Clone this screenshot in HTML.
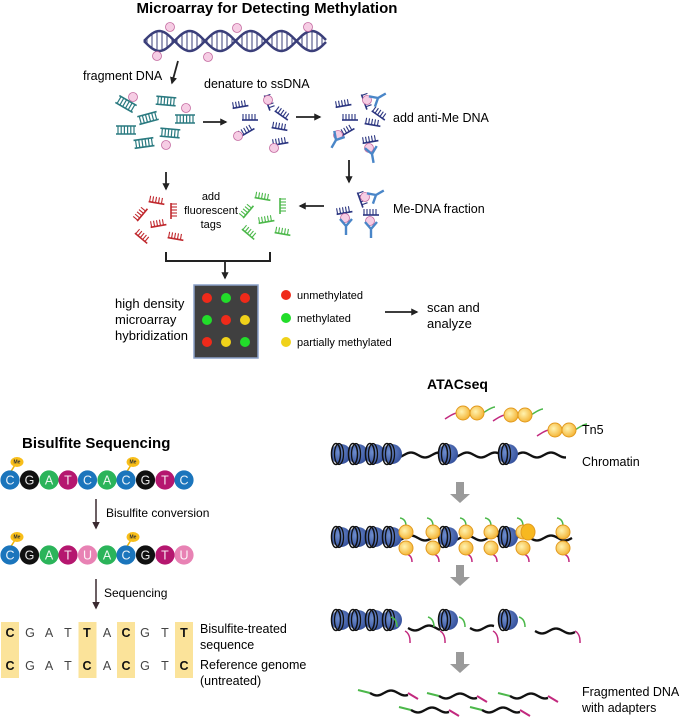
<!DOCTYPE html>
<html><head><meta charset="utf-8"><style>
html,body{margin:0;padding:0;background:#fff}
svg{display:block;font-family:"Liberation Sans",Arial,sans-serif}
</style></head><body>
<svg id="s" width="685" height="719" viewBox="0 0 685 719" xmlns="http://www.w3.org/2000/svg">
<defs>
<marker id="ah" viewBox="0 0 10 10" refX="8" refY="5" markerWidth="4" markerHeight="4" orient="auto"><path d="M0,0L10,5L0,10z" fill="#222"/></marker>
<marker id="ah2" viewBox="0 0 10 10" refX="8" refY="5" markerWidth="5" markerHeight="5" orient="auto"><path d="M0,0L10,5L0,10z" fill="#3a2a30"/></marker>
<radialGradient id="og" cx="0.4" cy="0.4" r="0.6"><stop offset="0" stop-color="#fff3b0"/><stop offset="1" stop-color="#f5b73a"/></radialGradient>
<radialGradient id="ng" cx="0.4" cy="0.4" r="0.7"><stop offset="0" stop-color="#6f8fd0"/><stop offset="1" stop-color="#2f4a96"/></radialGradient>
</defs>
<g id="g"></g>
<text x="267" y="13" font-size="15" font-weight="bold" text-anchor="middle">Microarray for Detecting Methylation</text>
<text x="83" y="80" font-size="12.5">fragment DNA</text>
<text x="204" y="88" font-size="12.5">denature to ssDNA</text>
<text x="393" y="122" font-size="12.5">add anti-Me DNA</text>
<text x="393" y="213" font-size="12.5">Me-DNA fraction</text>
<text x="211" y="200" font-size="11" text-anchor="middle">add</text>
<text x="211" y="214" font-size="11" text-anchor="middle">fluorescent</text>
<text x="211" y="228" font-size="11" text-anchor="middle">tags</text>
<text x="115" y="308" font-size="13">high density</text>
<text x="115" y="324" font-size="13">microarray</text>
<text x="115" y="340" font-size="13">hybridization</text>
<text x="297" y="299" font-size="11">unmethylated</text>
<text x="297" y="322" font-size="11">methylated</text>
<text x="297" y="346" font-size="11">partially methylated</text>
<text x="427" y="312" font-size="13">scan and</text>
<text x="427" y="328" font-size="13">analyze</text>

<text x="22" y="448" font-size="15" font-weight="bold">Bisulfite Sequencing</text>
<text x="106" y="517" font-size="12">Bisulfite conversion</text>
<text x="104" y="597" font-size="12">Sequencing</text>
<text x="200" y="633" font-size="12.5">Bisulfite-treated</text>
<text x="200" y="649" font-size="12.5">sequence</text>
<text x="200" y="669" font-size="12.5">Reference genome</text>
<text x="200" y="685" font-size="12.5">(untreated)</text>

<text x="427" y="389" font-size="14" font-weight="bold">ATACseq</text>
<text x="582" y="434" font-size="12.5">Tn5</text>
<text x="582" y="466" font-size="12.5">Chromatin</text>
<text x="582" y="696" font-size="12.5">Fragmented DNA</text>
<text x="582" y="712" font-size="12.5">with adapters</text>

<g id="bs"></g>
<g font-size="5" font-weight="bold" text-anchor="middle" fill="#333">
<text x="17" y="463.5">Me</text><text x="133" y="463.5">Me</text>
<text x="17" y="538.5">Me</text><text x="133" y="538.5">Me</text>
</g>
<g font-size="12.5" text-anchor="middle" fill="#444">
<text x="10" y="637" font-weight="bold" fill="#111">C</text><text x="30" y="637">G</text><text x="49" y="637">A</text><text x="68" y="637">T</text><text x="87" y="637" font-weight="bold" fill="#111">T</text><text x="107" y="637">A</text><text x="126" y="637" font-weight="bold" fill="#111">C</text><text x="145" y="637">G</text><text x="165" y="637">T</text><text x="184" y="637" font-weight="bold" fill="#111">T</text>
<text x="10" y="670" font-weight="bold" fill="#111">C</text><text x="30" y="670">G</text><text x="49" y="670">A</text><text x="68" y="670">T</text><text x="87" y="670" font-weight="bold" fill="#111">C</text><text x="107" y="670">A</text><text x="126" y="670" font-weight="bold" fill="#111">C</text><text x="145" y="670">G</text><text x="165" y="670">T</text><text x="184" y="670" font-weight="bold" fill="#111">C</text>
</g>
<g font-size="12.5" text-anchor="middle" fill="#fff" fill-opacity="0.9">
<text x="10" y="484.5">C</text><text x="29.5" y="484.5">G</text><text x="49" y="484.5">A</text><text x="68" y="484.5">T</text><text x="87.5" y="484.5">C</text><text x="107" y="484.5">A</text><text x="126" y="484.5">C</text><text x="145.5" y="484.5">G</text><text x="165" y="484.5">T</text><text x="184" y="484.5">C</text>
<text x="10" y="559.5">C</text><text x="29.5" y="559.5">G</text><text x="49" y="559.5">A</text><text x="68" y="559.5">T</text><text x="87.5" y="559.5">U</text><text x="107" y="559.5">A</text><text x="126" y="559.5">C</text><text x="145.5" y="559.5">G</text><text x="165" y="559.5">T</text><text x="184" y="559.5">U</text>
</g>
</svg>
<script>
var NS="http://www.w3.org/2000/svg",G=document.getElementById("g");
function el(t,a,p){var e=document.createElementNS(NS,t);for(var k in a)e.setAttribute(k,a[k]);(p||G).appendChild(e);return e;}
function grp(x,y,r){return el("g",{transform:"translate("+x+","+y+") rotate("+r+")"});}
function ds(x,y,r,c){var g=grp(x,y,r);el("line",{x1:-10,y1:-4,x2:10,y2:-4,stroke:c,"stroke-width":1.6},g);el("line",{x1:-10,y1:4,x2:10,y2:4,stroke:c,"stroke-width":1.6},g);for(var i=-8;i<=8;i+=3.2)el("line",{x1:i,y1:-4,x2:i,y2:4,stroke:c,"stroke-width":1.2},g);}
function ss(x,y,r,c){var g=grp(x,y,r);el("line",{x1:-8,y1:3,x2:8,y2:3,stroke:c,"stroke-width":1.6},g);for(var i=-7;i<=7;i+=3)el("line",{x1:i,y1:3,x2:i,y2:-3,stroke:c,"stroke-width":1.1},g);}
function me(x,y){el("circle",{cx:x,cy:y,r:4.5,fill:"#f6cde4",stroke:"#c46aa0","stroke-width":0.8});}
function ab(x,y,r){var g=grp(x,y,r),c="#4a86c8";el("path",{d:"M0,0L0,9M0,0L-6,-7M0,0L6,-7",stroke:c,"stroke-width":2.4,fill:"none"},g);}
function ar(x1,y1,x2,y2){el("line",{x1:x1,y1:y1,x2:x2,y2:y2,stroke:"#222","stroke-width":1.8,"marker-end":"url(#ah)"});}
var p1="",p2="";for(var x=144;x<=327;x+=2){var t=(x-144)/61*2*Math.PI;p1+=(x==144?"M":"L")+x+","+(41+10*Math.sin(t));p2+=(x==144?"M":"L")+x+","+(41-10*Math.sin(t));}
for(var x=147;x<327;x+=5){var t=(x-144)/61*2*Math.PI;el("line",{x1:x,y1:41+10*Math.sin(t),x2:x,y2:41-10*Math.sin(t),stroke:"#3b3f7a","stroke-width":1});}
el("path",{d:p1,stroke:"#3b3f7a","stroke-width":2.5,fill:"none"});el("path",{d:p2,stroke:"#3b3f7a","stroke-width":2.5,fill:"none"});
[[170,27],[237,28],[308,27],[157,56],[208,57]].forEach(function(p){me(p[0],p[1]);});
ar(178,61,172,83);
var T="#2a7a80";[[126,104,30],[166,101,5],[148,118,-15],[185,119,0],[126,130,0],[170,133,5],[144,143,-8]].forEach(function(p){ds(p[0],p[1],p[2],T);});
me(133,97);me(186,108);me(166,145);
ar(203,122,226,122);
var B="#2b3580";[[240,104,-10],[270,102,70],[283,113,35],[250,117,0],[280,126,10],[246,130,-30],[280,141,-10]].forEach(function(p){ss(p[0],p[1],p[2],B);});
me(268,100);me(238,136);me(274,148);
ar(296,117,320,117);
[[343,103,-10],[367,101,70],[380,113,35],[350,117,0],[373,122,10],[346,130,-30],[370,139,-10]].forEach(function(p){ss(p[0],p[1],p[2],B);});
me(367,100);me(338,135);me(369,148);ab(378,98,-120);ab(336,140,30);ab(372,154,-10);
ar(349,160,349,182);ar(166,172,166,189);
[[344,210,-10],[363,199,70],[371,212,0]].forEach(function(p){ss(p[0],p[1],p[2],B);});
me(365,197);me(345,218);me(370,221);ab(376,195,-120);ab(346,226,0);ab(371,229,0);
ar(324,206,300,206);
var R="#c0282d";[[157,200,10],[140,213,-50],[174,211,90],[158,223,-10],[143,236,40],[176,236,10]].forEach(function(p){ss(p[0],p[1],p[2],R);});
var Gr="#4cb84a";[[263,196,10],[246,210,-50],[283,206,90],[266,219,-10],[250,232,40],[283,231,10]].forEach(function(p){ss(p[0],p[1],p[2],Gr);});
el("path",{d:"M166,252L166,261L270,261L270,252",stroke:"#222","stroke-width":2,fill:"none"});
ar(225,262,225,278);
el("rect",{x:194,y:285,width:64,height:73,fill:"#404040",stroke:"#8aa0c8","stroke-width":1.5});
var rc="#ef2a1a",gc="#22dd2a",yc="#f0d21a",cols=[[rc,gc,rc],[gc,rc,yc],[rc,yc,gc]];
for(var i=0;i<3;i++)for(var j=0;j<3;j++)el("circle",{cx:207+j*19,cy:298+i*22,r:5,fill:cols[i][j]});
el("circle",{cx:286,cy:295,r:5,fill:rc});el("circle",{cx:286,cy:318,r:5,fill:gc});el("circle",{cx:286,cy:342,r:5,fill:yc});
ar(385,312,417,312);
var BS=document.getElementById("bs"),col={C:"#1b75bc",G:"#111",A:"#2bb45a",T:"#b5176f",U:"#e882b4"};
var xs=[10,29.5,49,68,87.5,107,126,145.5,165,184];
function row(seq,y){for(var i=0;i<seq.length;i++){el("circle",{cx:xs[i],cy:y,r:9.6,fill:col[seq[i]]},BS);}}
row("CGATCACGTC",480);row("CGATUACGTU",555);
[[17,462,480],[133,462,480],[17,537,555],[133,537,555]].forEach(function(p){el("line",{x1:p[0]-2,y1:p[1]+3,x2:p[0]-7,y2:p[2]-7,stroke:"#f0b400","stroke-width":1.5});el("ellipse",{cx:p[0],cy:p[1],rx:6.5,ry:5,fill:"#f8be1a"});});
el("line",{x1:96,y1:499,x2:96,y2:528,stroke:"#3a2a30","stroke-width":1.5,"marker-end":"url(#ah2)"});
el("line",{x1:96,y1:579,x2:96,y2:608,stroke:"#3a2a30","stroke-width":1.5,"marker-end":"url(#ah2)"});
[10,87.5,126,184].forEach(function(x){el("rect",{x:x-9,y:622,width:18,height:56,fill:"#fbe39a"},G);});
function nuc(x,y){el("circle",{cx:x+1,cy:y,r:10,fill:"url(#ng)"});el("ellipse",{cx:x-4,cy:y,rx:4.5,ry:10.5,fill:"none",stroke:"#111","stroke-width":1.5});el("ellipse",{cx:x-1,cy:y,rx:4.5,ry:10.5,fill:"none",stroke:"#111","stroke-width":1.3});}
function wav(x1,x2,y,c,w){var d="";for(var x=x1;x<=x2;x+=2)d+=(x==x1?"M":"L")+x+","+(y+2.5*Math.sin((x-x1)/28*2*Math.PI));el("path",{d:d,stroke:c||"#111","stroke-width":w||2.4,fill:"none"});}
function tail(x,y,dx,dy,c){el("path",{d:"M"+x+","+y+"q"+(dx/2+3)+","+(dy/2-3)+" "+dx+","+dy,stroke:c,"stroke-width":1.5,fill:"none"});}
function tn(x,y,v){var a=v?[x,y-8,x,y+8]:[x-7,y,x+7,y];tail(a[0]-(v?0:6),a[1]+(v?-6:0),v?-6:-12,v?-8:6,v?"#4cb84a":"#c2297e");tail(a[2]+(v?0:6),a[3]+(v?6:0),v?6:12,v?8:-6,v?"#c2297e":"#4cb84a");el("circle",{cx:a[0],cy:a[1],r:7,fill:"url(#og)",stroke:"#e29a1e","stroke-width":1});el("circle",{cx:a[2],cy:a[3],r:7,fill:"url(#og)",stroke:"#e29a1e","stroke-width":1});}
tn(470,413,0);tn(518,415,0);tn(562,430,0);
wav(390,566,455);[340,357,374,391,447,507].forEach(function(x){nuc(x,454);});
function garr(y){el("path",{d:"M456,"+y+"h8v12h6l-10,9l-10,-9h6z",fill:"#9a9a9a"});}
garr(482);garr(565);garr(652);
wav(390,572,538);[340,357,374,391,447,507].forEach(function(x){nuc(x,537);});
[406,433,466,491,523].forEach(function(x){tn(x,540,1);});tn(563,540,1);
el("ellipse",{cx:528,cy:532,rx:7,ry:8,fill:"#f7b820",stroke:"#e29a1e"});
[340,357,374,391,447,507].forEach(function(x){nuc(x,620);});
wav(408,440,628);wav(470,495,628);wav(535,575,631);
[[397,627,1],[405,631,0],[434,627,1],[440,631,0],[465,627,1],[493,631,0],[525,627,1],[575,631,0]].forEach(function(p){if(p[2])tail(p[0],p[1],-6,-10,"#4cb84a");else tail(p[0],p[1],5,12,"#c2297e");});
function frag(x,y){el("path",{d:"M"+x+","+y+"l12,3",stroke:"#4cb84a","stroke-width":2,fill:"none"});wav(x+12,x+50,y+3);el("path",{d:"M"+(x+50)+","+(y+3)+"l10,6",stroke:"#c2297e","stroke-width":2,fill:"none"});}
frag(358,690);frag(427,693);frag(498,693);frag(399,707);frag(470,707);
</script>
</body></html>
